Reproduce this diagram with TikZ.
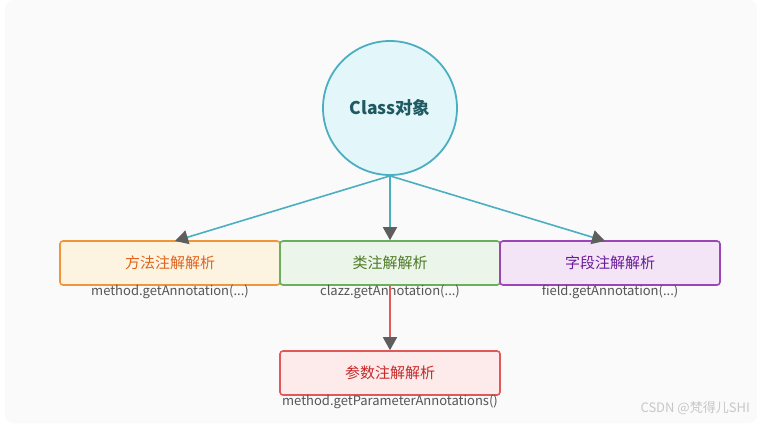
\documentclass[tikz,border=0pt]{standalone}
\usepackage{fontspec}
\setmainfont{Noto Sans CJK SC}
\usetikzlibrary{arrows.meta}
\definecolor{bgc}{HTML}{FAFAFA}
\definecolor{circfill}{HTML}{E3F6FA}
\definecolor{circdraw}{HTML}{4AAFC0}
\definecolor{circtext}{HTML}{1F5A62}
\definecolor{orfill}{HTML}{FDF3E1}
\definecolor{ordraw}{HTML}{F0953A}
\definecolor{ortext}{HTML}{E0641C}
\definecolor{grfill}{HTML}{EBF5E9}
\definecolor{grdraw}{HTML}{6BAF5E}
\definecolor{grtext}{HTML}{4E7A26}
\definecolor{pufill}{HTML}{F3E5F5}
\definecolor{pudraw}{HTML}{9B45B6}
\definecolor{putext}{HTML}{6A1B9A}
\definecolor{refill}{HTML}{FDEBEB}
\definecolor{redraw}{HTML}{E05858}
\definecolor{retext}{HTML}{C62828}
\definecolor{lbl}{HTML}{555555}
\definecolor{tipc}{HTML}{5E5E5E}
\begin{document}
\begin{tikzpicture}[x=1pt,y=-1pt,
  box/.style={rounded corners=3pt, line width=1.6pt, minimum width=220pt, minimum height=44pt, inner sep=0pt, font=\fontsize{15}{18}\selectfont},
  lab/.style={text=lbl, font=\fontsize{13}{15}\selectfont, inner sep=0pt},
  arr/.style={line width=1.6pt, -{Triangle[length=13pt,width=14pt,fill=tipc,color=tipc]}}]
\useasboundingbox (0,0) rectangle (757,423);
\fill[bgc, rounded corners=8pt] (5,0) rectangle (757,423);
\node[circle, draw=circdraw, fill=circfill, line width=1.8pt, minimum size=134pt, inner sep=0pt, text=circtext, font=\fontsize{17.5}{20}\selectfont\bfseries] (cls) at (390,108) {Class对象};
\node[box, draw=ordraw, fill=orfill, text=ortext] (m) at (170,263) {方法注解解析};
\node[box, draw=grdraw, fill=grfill, text=grtext] (c) at (390,263) {类注解解析};
\node[box, draw=pudraw, fill=pufill, text=putext] (f) at (610,263) {字段注解解析};
\node[box, draw=redraw, fill=refill, text=retext] (p) at (390,373) {参数注解解析};
\node[lab] (ml) at (170,292) {method.getAnnotation(...)};
\node[lab] (cl) at (390,292) {clazz.getAnnotation(...)};
\node[lab] (fl) at (610,292) {field.getAnnotation(...)};
\node[lab] (pl) at (390,402) {method.getParameterAnnotations()};
\coordinate (ct) at (175,241);
\coordinate (ft) at (605,241);
\draw[arr, circdraw] (cls.south) -- (ct);
\draw[arr, circdraw] (cls.south) -- (c.north);
\draw[arr, circdraw] (cls.south) -- (ft);
\draw[arr, redraw] (c.south) -- (p.north);
\node[text=black!22, font=\fontsize{13}{15}\selectfont, inner sep=0pt, anchor=east] (wm) at (750,408) {CSDN @梵得儿SHI};
\end{tikzpicture}
\end{document}
